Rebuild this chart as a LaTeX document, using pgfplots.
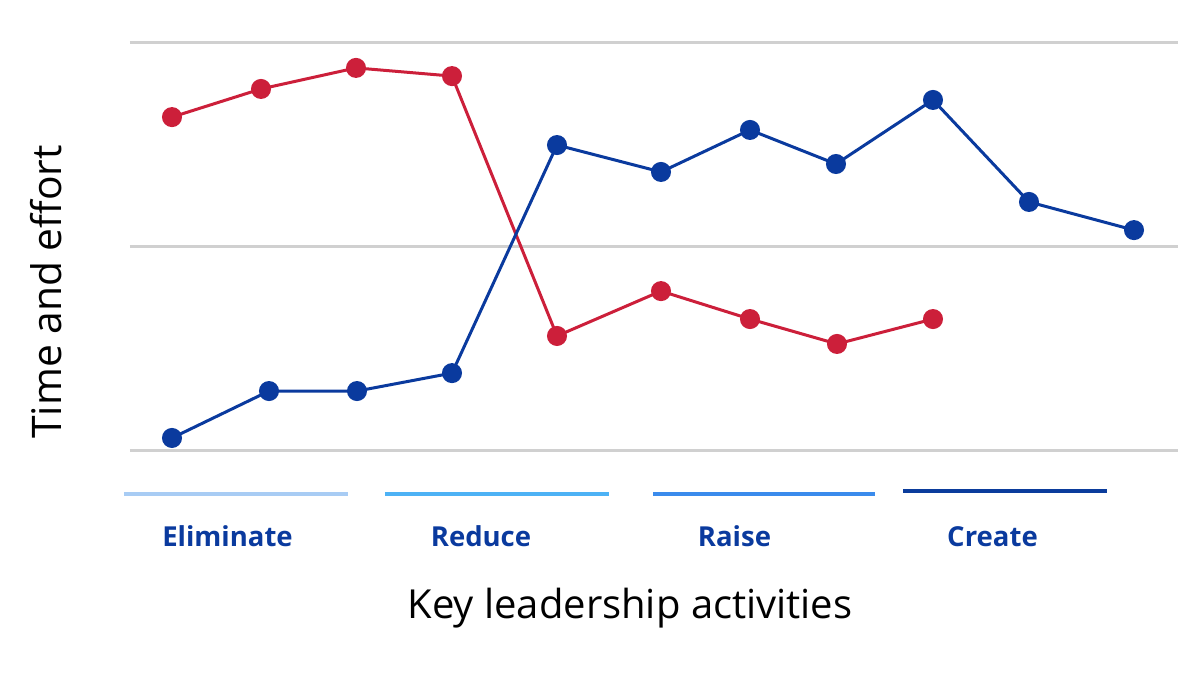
\documentclass[border=0pt]{standalone}
\usepackage{pgfplots}
\pgfplotsset{compat=1.18}
\usepackage{fontspec}
\setmainfont{Open Sans}
\definecolor{dblue}{HTML}{0A3A9E}
\definecolor{dred}{HTML}{CC1F3A}
\definecolor{gridgray}{HTML}{D0D0D0}
\definecolor{ul1}{HTML}{A8CCF4}
\definecolor{ul2}{HTML}{4DB2F5}
\definecolor{ul3}{HTML}{3A8BEC}
\definecolor{ul4}{HTML}{0B3C9C}
\begin{document}
\begin{tikzpicture}
\begin{axis}[
  scale only axis,
  width=419.2pt, height=163.2pt,
  xmin=130, xmax=1178, ymin=0, ymax=2,
  axis line style={draw=none},
  tick style={draw=none},
  clip=false,
  ytick={0,1,2}, xtick=\empty,
  yticklabels={},
  ymajorgrids,
  grid style={gridgray, line width=1.2pt},
  every axis plot/.append style={line width=1.2pt, mark=*, mark size=3.4pt},
]
\path (axis cs:0,-1.103) rectangle (axis cs:1200,2.206);
\draw[ul1, line width=1.4pt] (axis cs:124,-0.216) -- (axis cs:348,-0.216);
\draw[ul2, line width=1.4pt] (axis cs:385,-0.216) -- (axis cs:609,-0.216);
\draw[ul3, line width=1.4pt] (axis cs:653,-0.216) -- (axis cs:875,-0.216);
\draw[ul4, line width=1.4pt] (axis cs:903,-0.201) -- (axis cs:1107,-0.201);
\node[anchor=base, text=dblue, font=\fontsize{11}{13}\selectfont\bfseries] at (axis cs:227.5,-0.471) {Eliminate};
\node[anchor=base, text=dblue, font=\fontsize{11}{13}\selectfont\bfseries] at (axis cs:481,-0.471) {Reduce};
\node[anchor=base, text=dblue, font=\fontsize{11}{13}\selectfont\bfseries] at (axis cs:734.5,-0.471) {Raise};
\node[anchor=base, text=dblue, font=\fontsize{11}{13}\selectfont\bfseries] at (axis cs:992.5,-0.471) {Create};
\node[anchor=base, font=\fontsize{16}{19}\selectfont] at (axis cs:630,-0.828) {Key leadership activities};
\node[anchor=base, rotate=90, font=\fontsize{16.3}{19}\selectfont] at (axis cs:62,0.775) {Time and effort};
\addplot[color=dred, mark options={fill=dred, draw=dred}] coordinates {
 (172,1.632) (261,1.770) (356,1.873) (452,1.833) (557,0.559)
 (661,0.779) (750,0.642) (837,0.520) (933,0.642)
};
\addplot[color=dblue, mark options={fill=dblue, draw=dblue}] coordinates {
 (172,0.059) (269,0.289) (357,0.289) (452,0.377) (557,1.495)
 (661,1.363) (750,1.569) (836,1.402) (933,1.716) (1029,1.216) (1134,1.078)
};
\end{axis}
\end{tikzpicture}
\end{document}
